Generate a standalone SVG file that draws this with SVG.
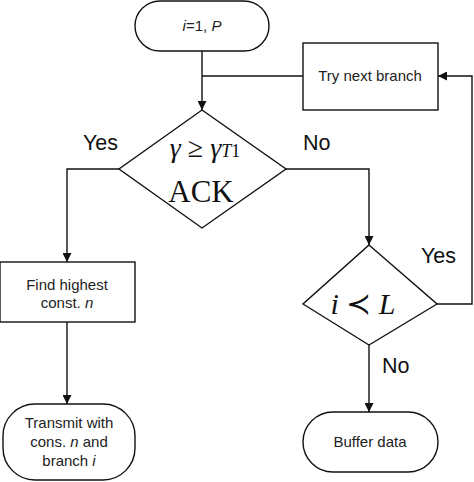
<svg xmlns="http://www.w3.org/2000/svg" width="474" height="482" viewBox="0 0 474 482">
<style>
.s{fill:#fff;stroke:#111;stroke-width:1.4}
.c{fill:none;stroke:#111;stroke-width:1.4}
.t{font-family:"Liberation Sans",Arial,sans-serif;font-size:15px;fill:#222;text-anchor:middle}
.l{font-family:"Liberation Sans",Arial,sans-serif;font-size:21.5px;fill:#111}
.m{font-family:"Liberation Serif","DejaVu Serif",serif;fill:#111;text-anchor:middle}
</style>
<defs>
<marker id="a" viewBox="0 0 10 10" refX="10" refY="5" markerWidth="9" markerHeight="9" markerUnits="userSpaceOnUse" orient="auto">
<path d="M0,0L10,5L0,10z" fill="#111"/>
</marker>
</defs>
<g id="connectors">
<path class="c" d="M202,51V110" marker-end="url(#a)"/>
<path class="c" d="M303,76H202"/>
<path class="c" d="M286,169H369V245" marker-end="url(#a)"/>
<path class="c" d="M119,169H67V262" marker-end="url(#a)"/>
<path class="c" d="M67,322V404" marker-end="url(#a)"/>
<path class="c" d="M437,304H472V76H438" marker-end="url(#a)"/>
<path class="c" d="M369,345V412" marker-end="url(#a)"/>
</g>
<g id="start">
<rect class="s" x="135" y="1" width="134" height="50" rx="25"/>
<text class="t" x="202" y="31" font-size="15.5"><tspan font-style="italic">i</tspan>=1, <tspan font-style="italic">P</tspan></text>
</g>
<g id="try">
<rect class="s" x="303" y="43" width="135" height="67"/>
<text class="t" x="370" y="81">Try next branch</text>
</g>
<g id="d1">
<path class="s" d="M202,110L286,169L202,228L119,169Z"/>
<text class="m" x="205" y="157" font-size="28"><tspan font-style="italic">γ</tspan> ≥ <tspan font-style="italic">γ</tspan><tspan font-style="italic" font-size="18">T</tspan><tspan font-size="18">1</tspan></text>
<text class="m" x="201" y="202" font-size="31">ACK</text>
</g>
<g id="find">
<rect class="s" x="0" y="262" width="135" height="60"/>
<text class="t" x="67" y="290">Find highest</text>
<text class="t" x="67" y="308">const. <tspan font-style="italic">n</tspan></text>
</g>
<g id="transmit">
<rect class="s" x="3" y="404" width="132" height="76" rx="32"/>
<text class="t" x="69" y="428">Transmit with</text>
<text class="t" x="69" y="447">cons. <tspan font-style="italic">n</tspan> and</text>
<text class="t" x="69" y="466">branch <tspan font-style="italic">i</tspan></text>
</g>
<g id="d2">
<path class="s" d="M369,245L437,304L369,345L303,304Z"/>
<text class="m" x="363" y="314" font-size="30"><tspan font-style="italic">i</tspan> ≺ <tspan font-style="italic">L</tspan></text>
</g>
<g id="buffer">
<rect class="s" x="303" y="412" width="135" height="60" rx="30"/>
<text class="t" x="370" y="447">Buffer data</text>
</g>
<g id="labels">
<text class="l" x="83" y="150">Yes</text>
<text class="l" x="303" y="150">No</text>
<text class="l" x="421" y="263">Yes</text>
<text class="l" x="382" y="373">No</text>
</g>
</svg>
